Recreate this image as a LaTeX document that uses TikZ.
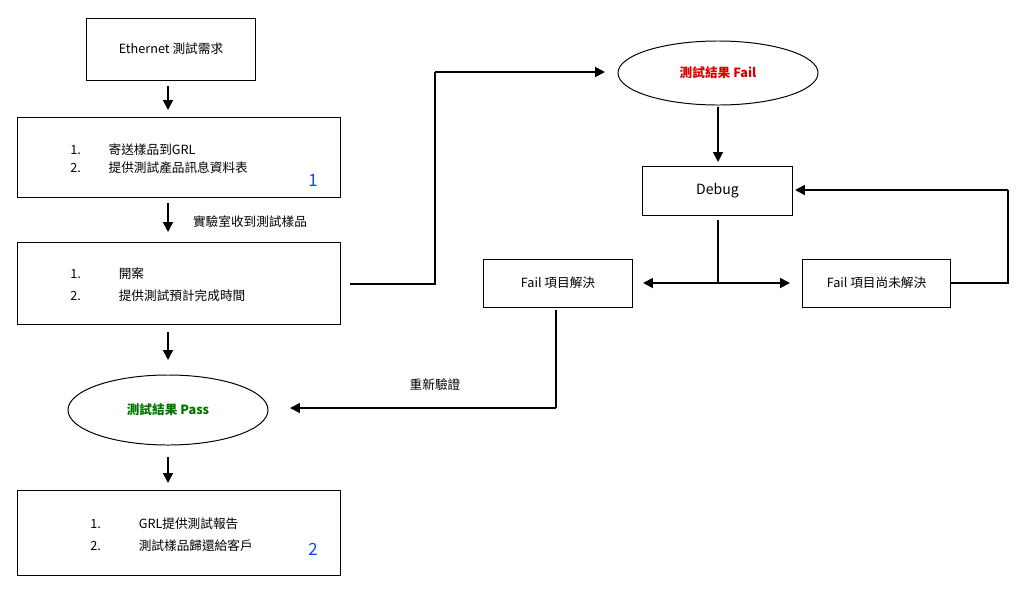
\documentclass[tikz,border=0pt]{standalone}
\usepackage{fontspec}
\setmainfont{Noto Sans CJK TC}
\usetikzlibrary{shapes.geometric,arrows.meta}
\begin{document}
\begin{tikzpicture}[x=0.025cm,y=-0.025cm,
 box/.style={draw,line width=0.7pt,inner sep=0pt},
 ell/.style={draw,ellipse,line width=0.7pt,inner sep=0pt},
 txt/.style={font=\fontsize{9}{11}\selectfont,inner sep=0pt},
 arr/.style={line width=1.3pt,-{Triangle[length=7pt,width=7pt]}},
 ln/.style={line width=1.3pt}]
\useasboundingbox (0,0) rectangle (1024,593);
\node[box,minimum width=4.2cm,minimum height=1.55cm] (b1) at (171,49) {};
\node[txt] (t1) at (171,49) {Ethernet 測試需求};
\node[box,minimum width=8.05cm,minimum height=2cm] (b2) at (179,157) {};
\node[txt,anchor=west] (t2a) at (70,150) {1.\hspace{2.2em}寄送樣品到GRL};
\node[txt,anchor=west] (t2b) at (70,168) {2.\hspace{2.2em}提供測試產品訊息資料表};
\node[txt,text=blue!70!cyan,font=\fontsize{12}{14}\selectfont] (n1) at (313,180) {1};
\node[box,minimum width=8.05cm,minimum height=2.05cm] (b3) at (179,283) {};
\node[txt,anchor=west] (t3a) at (70,274) {1.\hspace{3em}開案};
\node[txt,anchor=west] (t3b) at (70,296) {2.\hspace{3em}提供測試預計完成時間};
\node[ell,minimum width=5cm,minimum height=1.75cm] (pass) at (168,410) {};
\node[txt,text=green!45!black,font=\bfseries\fontsize{9}{11}\selectfont] (tp) at (168,410) {測試結果 Pass};
\node[box,minimum width=8.05cm,minimum height=2.125cm] (b4) at (179,533) {};
\node[txt,anchor=west] (t4a) at (90,524) {1.\hspace{3em}GRL提供測試報告};
\node[txt,anchor=west] (t4b) at (90,546) {2.\hspace{3em}測試樣品歸還給客戶};
\node[txt,text=blue!70!cyan,font=\fontsize{12}{14}\selectfont] (n2) at (313,549) {2};
\node[ell,minimum width=5cm,minimum height=1.6cm] (fail) at (718,73) {};
\node[txt,text=red!85!black,font=\bfseries\fontsize{9}{11}\selectfont] (tf) at (718,73) {測試結果 Fail};
\node[box,minimum width=3.725cm,minimum height=1.225cm] (dbg) at (717.5,190.5) {};
\node[txt,font=\fontsize{10}{12}\selectfont] (td) at (717.5,190.5) {Debug};
\node[box,minimum width=3.7cm,minimum height=1.2cm] (fs) at (558,283) {};
\node[txt] (tfs) at (558,283) {Fail 項目解決};
\node[box,minimum width=3.7cm,minimum height=1.2cm] (fu) at (876.5,283) {};
\node[txt] (tfu) at (876.5,283) {Fail 項目尚未解決};
\node[txt] (l1) at (250,222) {實驗室收到測試樣品};
\node[txt] (l2) at (435,385) {重新驗證};
\coordinate (c1) at (435,284);
\coordinate (c2) at (435,72);
\coordinate (c3) at (718,283);
\coordinate (c4) at (1008,283);
\coordinate (c5) at (1008,190);
\coordinate (c6) at (556,408);
\draw[arr] (168,86) -- (168,110);
\draw[arr] (168,203) -- (168,232);
\draw[arr] (168,332) -- (168,360);
\draw[arr] (168,457) -- (168,483);
\draw[ln] (350,284) -- (c1) -- (c2);
\draw[arr] (c2) -- (605,72);
\draw[arr] (718,107) -- (718,162);
\draw[ln] (718,220) -- (c3);
\draw[arr] (c3) -- (643,283);
\draw[arr] (c3) -- (790,283);
\draw[ln] (fu.east) -- (c4) -- (c5);
\draw[arr] (c5) -- (795,190);
\draw[ln] (556,310) -- (c6);
\draw[arr] (c6) -- (290,408);
\end{tikzpicture}
\end{document}
